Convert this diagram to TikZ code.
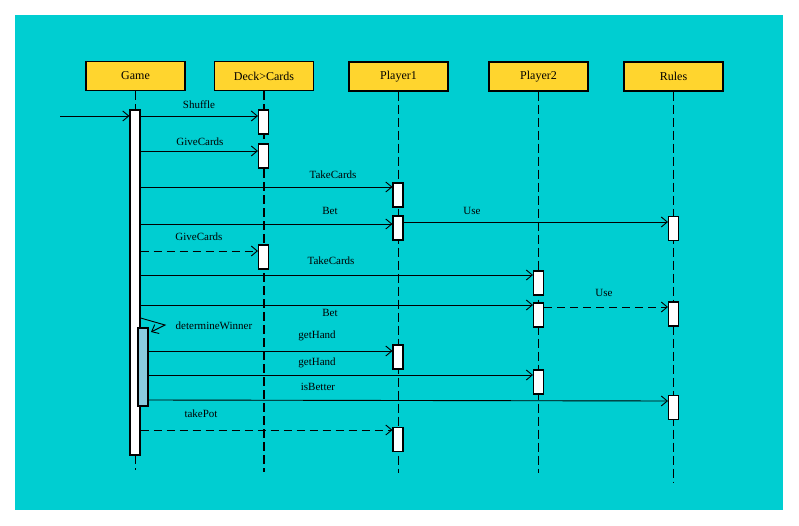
\documentclass[tikz,border=0pt]{standalone}
\usepackage{fontspec}
\setmainfont{Liberation Serif}
\usetikzlibrary{arrows.meta}

\definecolor{bgcyan}{RGB}{0,206,209}
\definecolor{hdryellow}{RGB}{255,213,46}
\definecolor{actblue}{RGB}{138,202,222}

\begin{document}
\begin{tikzpicture}[x=1pt,y=-1pt,
	obj/.style={draw, line width=1.3pt, fill=hdryellow, minimum width=99pt, minimum height=29pt, inner sep=0pt, font=\fontsize{12}{14}\selectfont},
	life/.style={line width=1.6pt, dash pattern=on 9pt off 4pt},
	act/.style={draw, line width=1.1pt, fill=white, minimum width=10pt, minimum height=24pt, inner sep=0pt},
	msg/.style={line width=0.9pt, -{Straight Barb[length=6pt,width=10pt]}},
	ret/.style={msg, dash pattern=on 8pt off 5pt},
	lbl/.style={font=\fontsize{11}{13}\selectfont, inner sep=0pt}]
	\useasboundingbox (0,0) rectangle (799,526);
	\fill[white] (0,0) rectangle (799,526);
	\fill[bgcyan] (15,15) rectangle (783,510);

	\node[obj] (game) at (135.5,76) {Game};
	\node[obj] (deck) at (264,76) {Deck>Cards};
	\node[obj] (pone) at (398.5,76.5) {Player1};
	\node[obj] (ptwo) at (538.5,76.5) {Player2};
	\node[obj] (rules) at (673.5,76.5) {Rules};

	\draw[life] (game.south) -- (135.5,470);
	\draw[life] (deck.south) -- (264,472);
	\draw[life] (pone.south) -- (398.5,473);
	\draw[life] (ptwo.south) -- (538.5,473);
	\draw[life] (rules.south) -- (673.5,483);

	\node[act, minimum height=345pt] (ga) at (135,282.5) {};
	\node[act, fill=actblue, minimum height=78pt] (dw) at (143,367) {};

	\node[act] (d1) at (263.5,122) {};
	\node[act] (d2) at (263.5,156) {};
	\node[act] (d3) at (263.5,257) {};
	\node[act] (p1a) at (398,195) {};
	\node[act] (p1b) at (398,228) {};
	\node[act] (p1c) at (398,357) {};
	\node[act] (p1d) at (398,439.5) {};
	\node[act] (p2a) at (538.5,283) {};
	\node[act] (p2b) at (538.5,315) {};
	\node[act] (p2c) at (538.5,382) {};
	\node[act] (r1) at (673.5,228.5) {};
	\node[act] (r2) at (673.5,314) {};
	\node[act] (r3) at (673.5,407.5) {};

	\coordinate (start) at (60,116);
	\draw[msg] (start) -- (ga.west |- start);
	\draw[msg] (ga.east |- 0,116) -- (d1.west |- 0,116);
	\node[lbl] (shuffle) at (199,105) {Shuffle};
	\draw[msg] (ga.east |- 0,151) -- (d2.west |- 0,151);
	\node[lbl] (give1) at (200,142) {GiveCards};
	\draw[msg] (ga.east |- 0,187) -- (p1a.west |- 0,187);
	\node[lbl] (take1) at (333,175) {TakeCards};
	\draw[msg] (ga.east |- 0,224) -- (p1b.west |- 0,224);
	\node[lbl] (bet1) at (330,211) {Bet};
	\draw[msg] (p1b.east |- 0,222) -- (r1.west |- 0,222);
	\node[lbl] (use1) at (472,211) {Use};
	\draw[ret] (ga.east |- 0,251) -- (d3.west |- 0,251);
	\node[lbl] (give2) at (199,237) {GiveCards};
	\draw[msg] (ga.east |- 0,275) -- (p2a.west |- 0,275);
	\node[lbl] (take2) at (331,261) {TakeCards};
	\draw[msg] (ga.east |- 0,305) -- (p2b.west |- 0,305);
	\node[lbl] (bet2) at (330,313) {Bet};
	\draw[ret] (p2b.east |- 0,307) -- (r2.west |- 0,307);
	\node[lbl] (use2) at (604,293) {Use};
	\draw[msg] (ga.east |- 0,318) -- (165,325) -- (151,332);
	\node[lbl] (winner) at (214,326) {determineWinner};
	\draw[msg] (dw.east |- 0,351) -- (p1c.west |- 0,351);
	\node[lbl] (hand1) at (317,336) {getHand};
	\draw[msg] (dw.east |- 0,375) -- (p2c.west |- 0,375);
	\node[lbl] (hand2) at (317,363) {getHand};
	\draw[msg] (dw.east |- 0,400) -- (r3.west |- 0,401);
	\node[lbl] (better) at (318,387) {isBetter};
	\draw[ret] (ga.east |- 0,430) -- (p1d.west |- 0,430);
	\node[lbl] (pot) at (201,414) {takePot};
\end{tikzpicture}
\end{document}
